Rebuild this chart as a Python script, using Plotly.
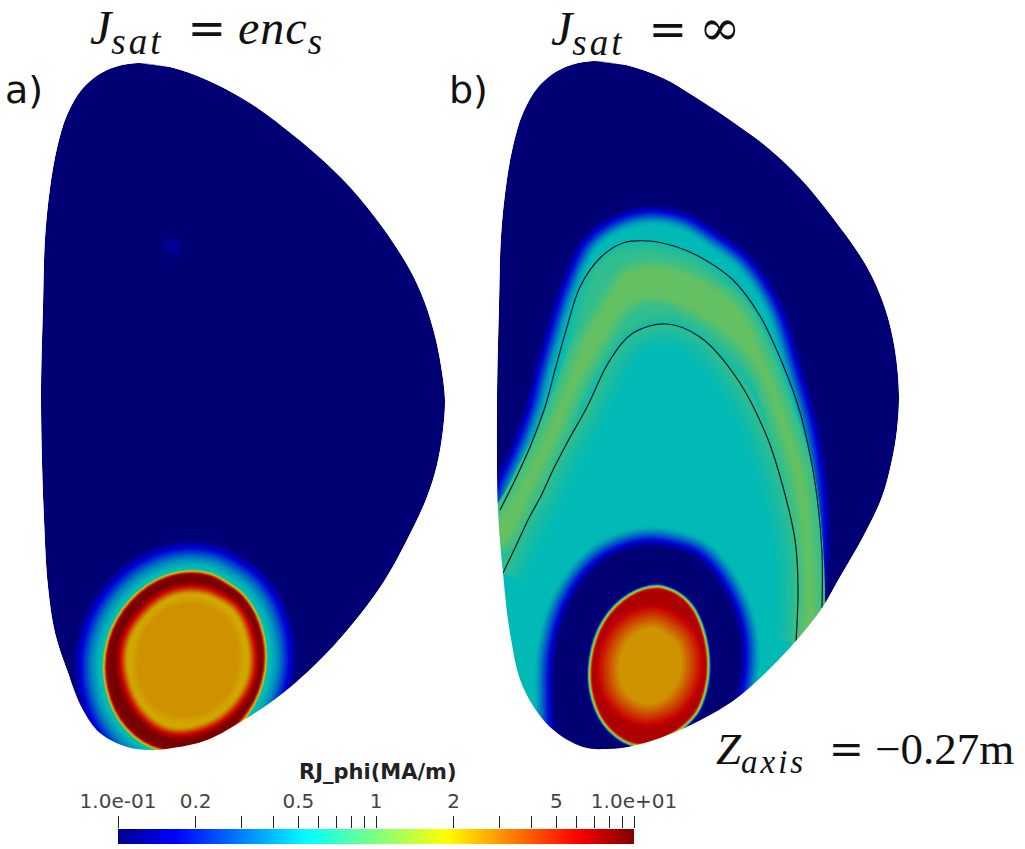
# Toroidal current density in two poloidal cross sections, with the colour bar below
import numpy as np
import plotly.graph_objects as go
from plotly.colors import sample_colorscale

# colour bar ticks (MA/m)
cbar_values = [0.1, 0.2, 0.5, 1, 2, 5, 10]
cbar_labels = ["1.0e-01", "0.2", "0.5", "1", "2", "5", "1.0e+01"]
cbar_minor = [0.3, 0.4, 0.6, 0.7, 0.8, 0.9, 3, 4, 6, 7, 8, 9]

# plasma boundaries
edge_a_r = [138, 170, 207, 250, 283, 317, 350, 383, 410, 425, 436, 442, 445, 443, 437, 427, 407, 383, 350, 317, 283, 247, 207, 173, 150, 127, 100, 83, 67, 55, 48, 44, 41, 43, 45, 50, 57, 67, 83, 107]
edge_a_z = [63, 67, 80, 103, 127, 155, 187, 228, 270, 303, 340, 372, 400, 430, 465, 497, 540, 583, 627, 663, 693, 718, 740, 748, 750, 747, 733, 710, 670, 633, 587, 520, 400, 305, 238, 188, 148, 115, 88, 70]
edge_b_r = [594, 626, 663, 700, 733, 767, 800, 833, 867, 885, 895, 899, 897, 892, 882, 863, 840, 822, 795, 758, 730, 680, 637, 607, 583, 550, 523, 510, 503, 498, 497, 499, 501, 506, 513, 523, 539, 563]
edge_b_z = [61, 65, 78, 100, 122, 147, 178, 218, 267, 308, 350, 395, 430, 460, 497, 537, 577, 608, 642, 680, 703, 730, 745, 749, 747, 727, 687, 633, 573, 510, 400, 303, 236, 186, 146, 113, 86, 68]

# panel a: middle of the dark red ring, inner yellow ring, orange core, faint spot
ring_a_r = [207, 239, 257, 256, 235, 201, 163, 131, 113, 114, 135, 169]
ring_a_z = [580, 600, 637, 681, 719, 742, 744, 724, 687, 643, 605, 582]
inner_a_r = [205, 232, 246, 246, 230, 204, 170, 146, 130, 130, 146, 174]
inner_a_z = [596, 611, 642, 676, 704, 722, 726, 710, 677, 644, 617, 597]
core_a_r = [203, 225, 237, 236, 223, 199, 173, 151, 139, 140, 153, 177]
core_a_z = [605, 618, 643, 673, 699, 714, 715, 702, 677, 647, 621, 606]
spot_a_r = [173, 176, 173, 170]
spot_a_z = [243, 246, 249, 246]

# panel b: teal field, green crown and ridge, navy patch, red ring, orange core
field_b_r = [480, 500, 512, 527, 543, 553, 565, 578, 597, 622, 650, 680, 705, 738, 765, 784, 800, 809, 811, 805, 800, 790, 480]
field_b_z = [530, 520, 488, 455, 412, 372, 330, 290, 250, 232, 225, 230, 245, 270, 312, 372, 430, 490, 553, 608, 650, 760, 760]
crown_b_r = [494, 517, 551, 566, 589, 600, 623, 650, 677, 704, 736, 765, 790, 805, 813, 815, 813, 803, 805, 803, 795, 780, 755, 724, 700, 667, 633, 610, 578, 561, 527, 506]
crown_b_z = [537, 495, 421, 384, 293, 268, 253, 251, 257, 270, 300, 350, 422, 478, 545, 597, 650, 650, 597, 549, 482, 428, 380, 347, 327, 314, 323, 345, 398, 429, 503, 543]
ridge_b_r = [494, 516, 553, 568, 585, 610, 625, 658, 700, 736, 762, 787, 803, 810, 813, 811, 805, 807, 805, 797, 782, 757, 726, 697, 658, 625, 605, 585, 574, 559, 525, 504]
ridge_b_z = [540, 497, 423, 386, 341, 298, 275, 268, 282, 308, 358, 426, 480, 547, 597, 650, 650, 597, 547, 484, 430, 364, 331, 312, 296, 306, 335, 368, 390, 427, 501, 541]
navy_b_r = [657, 695, 722, 738, 738, 725, 690, 640, 590, 560, 555, 557, 570, 600, 630]
navy_b_z = [547, 558, 590, 633, 680, 720, 760, 780, 775, 740, 690, 650, 605, 565, 550]
ring_b_r = [657, 674, 690, 701, 706, 703, 694, 670, 638, 611, 595, 593, 606, 631]
ring_b_z = [589, 594, 608, 632, 665, 690, 712, 733, 743, 728, 698, 660, 622, 597]
core_b_r = [655, 676, 681, 668, 645, 624, 619, 632]
core_b_z = [628, 642, 670, 696, 704, 690, 662, 636]

# black contour lines in panel b
line_outer_r = [500, 515, 530, 545, 555, 567, 580, 600, 623, 650, 677, 700, 733, 760, 783, 800, 810, 817, 822, 822]
line_outer_z = [510, 480, 447, 407, 370, 327, 287, 258, 243, 241, 247, 257, 280, 316, 365, 412, 455, 497, 553, 608]
line_inner_r = [503, 515, 529, 541, 553, 567, 587, 610, 633, 667, 700, 738, 767, 783, 795, 798, 796]
line_inner_z = [573, 548, 518, 496, 470, 443, 407, 360, 333, 324, 337, 380, 437, 487, 540, 587, 642]

# radial fall-off of the field: distance from the curve (px), value (MA/m)
halo_a_d = [41, 39, 37, 35, 33, 31, 29, 27, 25, 23, 21, 19, 17, 15, 13, 11]
halo_a_v = [0.1, 0.105, 0.115, 0.13, 0.15, 0.17, 0.2, 0.235, 0.275, 0.32, 0.365, 0.41, 0.45, 0.49, 0.525, 0.56]
rim_a_d = [8.5, 8, 7.5, 7, 6.5, 6, 5.5, 5, 4.5, 4]
rim_a_v = [0.75, 1.1, 1.6, 2.2, 2.9, 3.6, 4.5, 5.8, 7.5, 9.2]
inner_a_d = [13, 12, 11, 10, 9, 8, 7, 6, 5, 4, 3, 2, 1]
inner_a_v = [9.4, 8.6, 7.8, 7, 6.3, 5.6, 5, 4.4, 3.8, 3.3, 2.9, 2.6, 2.4]
core_a_d = [7, 6, 5, 4, 3, 2, 1]
core_a_v = [2.35, 2.38, 2.42, 2.46, 2.5, 2.55, 2.6]
spot_a_d = [9, 7, 5, 3]
spot_a_v = [0.103, 0.107, 0.112, 0.12]
field_b_d = [22, 20, 18, 16, 14, 12, 10, 8, 6, 4, 2]
field_b_v = [0.1, 0.11, 0.125, 0.15, 0.18, 0.22, 0.27, 0.33, 0.4, 0.46, 0.51]
soft_b_d = [24, 21, 18, 15, 12, 9, 6, 3]
soft_b_v = [0.55, 0.565, 0.58, 0.6, 0.62, 0.64, 0.67, 0.7]
crown_b_d = [10, 8, 6, 4, 2]
crown_b_v = [0.6, 0.62, 0.64, 0.67, 0.7]
ridge_b_d = [12, 10, 8, 6, 4, 2]
ridge_b_v = [0.72, 0.75, 0.78, 0.82, 0.86, 0.9]
navy_b_d = [22, 20, 18, 16, 14, 12, 10, 8, 6, 4, 2]
navy_b_v = [0.54, 0.5, 0.44, 0.38, 0.32, 0.27, 0.22, 0.18, 0.15, 0.125, 0.11]
rim_b_d = [5, 4.5, 4, 3.5, 3, 2.5, 2, 1.5, 1]
rim_b_v = [0.18, 0.3, 0.5, 0.8, 1.2, 1.8, 2.6, 3.6, 5]
core_b_d = [24, 22, 20, 18, 16, 14, 12, 10, 8, 6, 4, 2]
core_b_v = [6.6, 6.1, 5.6, 5.2, 4.8, 4.4, 4.1, 3.8, 3.5, 3.2, 3, 2.8]

# the bar uses the full colour map, the rendered surface is a bit darker
bar_scale = [[0, "#00008f"], [0.111, "#0000ff"], [0.365, "#00ffff"], [0.5, "#7fff7f"],
             [0.635, "#ffff00"], [0.889, "#ff0000"], [1, "#7f0000"]]
surface_scale = [[0, "#000074"], [0.111, "#0000d8"], [0.365, "#00bab6"], [0.5, "#6cc25c"],
                 [0.635, "#d2cf00"], [0.889, "#c80000"], [1, "#700000"]]


def shade(value):
    t = (np.log10(value) + 1) / 2
    return sample_colorscale(surface_scale, [t])[0]


def closed(r, z):
    return r + r[:2], z + z[:2]


fig = go.Figure()


def fill(r, z, value):
    x, y = closed(r, z)
    fig.add_trace(go.Scatter(x=x, y=y, mode="lines", fill="toself", fillcolor=shade(value),
                             line=dict(width=0, shape="spline"), hoverinfo="skip", showlegend=False))


def strokes(x, y, dist, values):
    for d, v in zip(dist, values):
        fig.add_trace(go.Scatter(x=x, y=y, mode="lines", line=dict(width=2 * d, color=shade(v), shape="spline"),
                                 hoverinfo="skip", showlegend=False))


def falloff(r, z, dist, values):
    x, y = closed(r, z)
    strokes(x, y, dist, values)


# panel a
fill(edge_a_r, edge_a_z, 0.1)
falloff(spot_a_r, spot_a_z, spot_a_d, spot_a_v)
falloff(ring_a_r, ring_a_z, halo_a_d, halo_a_v)
falloff(ring_a_r, ring_a_z, rim_a_d, rim_a_v)
fill(ring_a_r, ring_a_z, 9.6)
falloff(inner_a_r, inner_a_z, inner_a_d, inner_a_v)
fill(inner_a_r, inner_a_z, 2.32)
falloff(core_a_r, core_a_z, core_a_d, core_a_v)
fill(core_a_r, core_a_z, 2.65)

# panel b
fill(edge_b_r, edge_b_z, 0.1)
falloff(field_b_r, field_b_z, field_b_d, field_b_v)
fill(field_b_r, field_b_z, 0.54)
strokes(line_inner_r, line_inner_z, soft_b_d, soft_b_v)
falloff(crown_b_r, crown_b_z, crown_b_d, crown_b_v)
fill(crown_b_r, crown_b_z, 0.71)
falloff(ridge_b_r, ridge_b_z, ridge_b_d, ridge_b_v)
fill(ridge_b_r, ridge_b_z, 0.95)
falloff(navy_b_r, navy_b_z, navy_b_d, navy_b_v)
fill(navy_b_r, navy_b_z, 0.1)
falloff(ring_b_r, ring_b_z, rim_b_d, rim_b_v)
fill(ring_b_r, ring_b_z, 7)
falloff(core_b_r, core_b_z, core_b_d, core_b_v)
fill(core_b_r, core_b_z, 2.62)
for r, z in [(line_outer_r, line_outer_z), (line_inner_r, line_inner_z)]:
    fig.add_trace(go.Scatter(x=r, y=z, mode="lines", line=dict(width=1.2, color="#0a1a1a", shape="spline"),
                             hoverinfo="skip", showlegend=False))

# white sheet with the two plasma shapes cut out, so the field stops at the boundary
ra, za = closed(edge_a_r, edge_a_z)
rb, zb = closed(edge_b_r, edge_b_z)
fig.add_trace(go.Scatter(x=[-50, 1075, 1075, -50, -50, None] + ra[::-1] + [None] + rb[::-1],
                         y=[-50, -50, 900, 900, -50, None] + za[::-1] + [None] + zb[::-1],
                         mode="lines", fill="toself", fillcolor="white",
                         line=dict(width=0, shape="spline"), hoverinfo="skip", showlegend=False))

# colour bar
bar_x = np.log10(sorted(cbar_values + cbar_minor))
fig.add_trace(go.Heatmap(x=bar_x, y=[0, 1], z=[bar_x, bar_x], zmin=-1, zmax=1, zsmooth="best",
                         colorscale=bar_scale, showscale=False, hoverinfo="skip",
                         xaxis="x2", yaxis="y2"))

fig.update_layout(
    width=1025, height=849, margin=dict(l=0, r=0, t=0, b=0, autoexpand=False),
    paper_bgcolor="white", plot_bgcolor="white", showlegend=False,
    xaxis=dict(range=[0, 1025], visible=False, domain=[0, 1], automargin=False),
    yaxis=dict(range=[849, 0], visible=False, domain=[0, 1], automargin=False),
    xaxis2=dict(range=[-1, 1], domain=[118 / 1025, 634 / 1025], anchor="y2", side="top", automargin=False,
                tickmode="array", tickvals=list(np.log10(cbar_values)), ticktext=cbar_labels, ticks="outside",
                ticklen=12, tickwidth=1, tickcolor="#222222", showgrid=False, zeroline=False, showline=False,
                minor=dict(tickmode="array", tickvals=list(np.log10(cbar_minor)), ticks="outside", ticklen=12,
                           tickwidth=1, tickcolor="#222222", showgrid=False),
                tickangle=0, tickfont=dict(family="DejaVu Sans", size=20, color="#444444")),
    yaxis2=dict(range=[0, 1], domain=[1 - 844 / 849, 1 - 829 / 849], anchor="x2", visible=False, automargin=False),
)


def sub(text, size):
    return f'<sub><span style="font-size:{size}px;letter-spacing:3px">{text}</span></sub>'


def sym(text, size):
    return f"<span style=\"font-size:{size}px;font-family:'DejaVu Serif'\">{text}</span>"


serif = dict(family="Liberation Serif", size=48, color="#111111")
serif_z = dict(family="Liberation Serif", size=45, color="#111111")
sp = "\u00a0"
spaced_enc = '<span style="letter-spacing:1px">enc</span>'
texts = [
    (88, 31, f"<i>J{sub('sat', 37)}</i>{sp}{sp}{sym('=', 46)}{sp}<i>{spaced_enc}{sub('s', 37)}</i>", serif),
    (549, 31, f"<i>J{sub('sat', 37)}</i>{sp}{sp}{sym('=', 46)}{sp}{sym('∞', 50)}", serif),
    (714, 752, f"<i>Z{sub('axis', 33)}</i>{sp}{sp}{sym('=', 42)}{sp}−0.27m", serif_z),
    (3, 90, "a)", dict(family="DejaVu Sans", size=38, color="#111111")),
    (447, 90, "b)", dict(family="DejaVu Sans", size=38, color="#111111")),
    (297, 772, "<b>RJ_phi(MA/m)</b>", dict(family="DejaVu Sans", size=21, color="#222222")),
]
for x, y, text, font in texts:
    fig.add_annotation(x=x, y=y, xref="x", yref="y", text=text, showarrow=False, xanchor="left", yanchor="middle",
                       font=font)

fig.write_html("out.html", config=dict(displayModeBar=False),
               post_script="document.body.style.margin='0';document.body.style.overflow='hidden';")
